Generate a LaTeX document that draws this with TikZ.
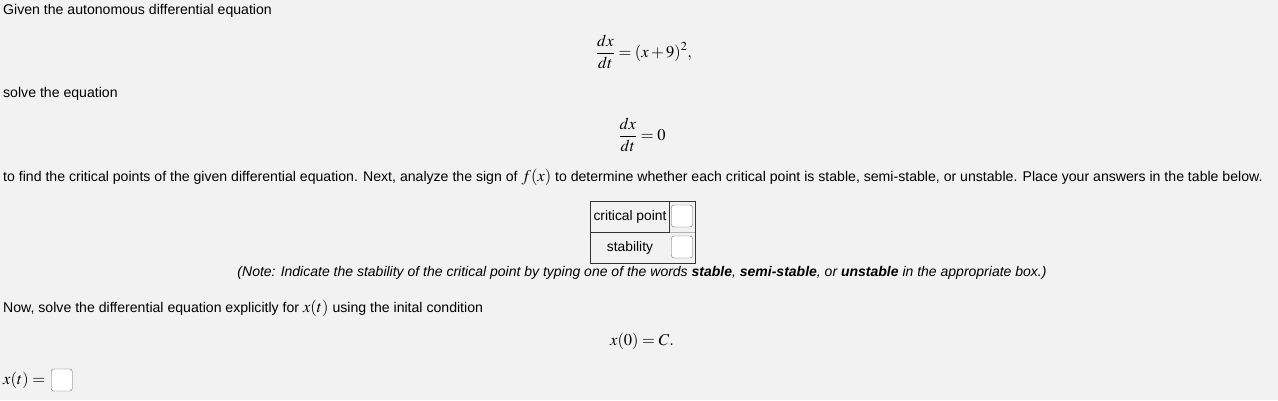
\documentclass[tikz,border=0pt]{standalone}
\usepackage{mathptmx}
\usepackage{fontspec}
\setmainfont{Liberation Sans}
\begin{document}
\begin{tikzpicture}[x=1pt,y=-1pt,
  txt/.style={anchor=west,inner sep=0pt,font=\fontsize{14.1}{16}\selectfont},
  mth/.style={inner sep=0pt,font=\fontsize{16.5}{18}\selectfont},
  inbox/.style={draw=black!60,fill=white,rounded corners=2.5pt,minimum width=21pt,minimum height=22pt,inner sep=0pt}]
\fill[black!5] (0,0) rectangle (1278,400);
\useasboundingbox (0,0) rectangle (1278,400);
\node[txt] (t1) at (3,11) {Given the autonomous differential equation};
\node[mth] (e1) at (644,52) {$\displaystyle\frac{dx}{dt}=(x+9)^2,$};
\node[txt] (t2) at (3,94) {solve the equation};
\node[mth] (e2) at (642,135) {$\displaystyle\frac{dx}{dt}=0$};
\node[txt] (t3) at (3,177) {to find the critical points of the given differential equation. Next, analyze the sign of {\fontsize{16.5}{18}\selectfont$f(x)$} to determine whether each critical point is stable, semi-stable, or unstable. Place your answers in the table below.};
\draw[black!80] (590,201) rectangle (695,263);
\draw[black!30] (590,232) -- (695,232);
\draw[black!80] (590,201) rectangle (669,232);
\node[txt,anchor=center,font=\fontsize{13.8}{16}\selectfont] (c1) at (630,217) {critical point};
\node[txt,anchor=center,font=\fontsize{13.8}{16}\selectfont] (c2) at (630,248) {stability};
\node[inbox] (b1) at (682,216) {};
\node[inbox] (b2) at (682,247) {};
\node[txt,anchor=center,font=\fontsize{14}{16}\selectfont\itshape] (n) at (642,273) {(Note: Indicate the stability of the critical point by typing one of the words \textbf{stable}, \textbf{semi-stable}, or \textbf{unstable} in the appropriate box.)};
\node[txt] (t4) at (3,308) {Now, solve the differential equation explicitly for {\fontsize{16.5}{18}\selectfont$x(t)$} using the inital condition};
\node[mth] (e3) at (642,341) {$x(0)=C.$};
\node[mth,anchor=west] (e4) at (3,380) {$x(t)=$};
\node[inbox,anchor=west] (b3) at (51,380) {};
\end{tikzpicture}
\end{document}
